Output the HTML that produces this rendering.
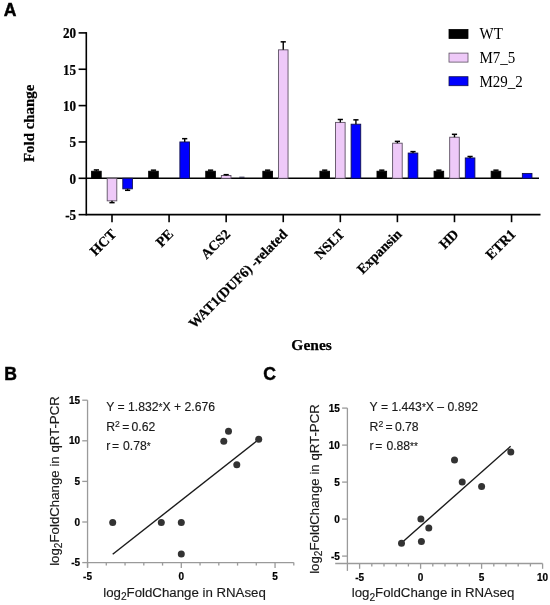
<!DOCTYPE html><html><head><meta charset="utf-8"><style>html,body{margin:0;padding:0;background:#fff;}svg{display:block;}.serif{font-family:"Liberation Serif",serif;} .sans{font-family:"Liberation Sans",sans-serif;}</style></head><body>
<svg width="550" height="605" viewBox="0 0 550 605">
<rect x="0" y="0" width="550" height="605" fill="#fff"/>
<g class="serif" stroke="#000" stroke-width="0.25">
<text x="3.8" y="15.9" font-family="Liberation Sans" font-weight="bold" font-size="17.6" stroke-width="0.45">A</text>
<line x1="86.3" y1="32.1" x2="86.3" y2="215.45" stroke="#000" stroke-width="1.6"/>
<line x1="78.6" y1="32.9" x2="86.3" y2="32.9" stroke="#000" stroke-width="1.6"/>
<text transform="translate(76.1,38.25) scale(0.93,1)" text-anchor="end" font-weight="bold" font-size="14.1">20</text>
<line x1="78.6" y1="69.25" x2="86.3" y2="69.25" stroke="#000" stroke-width="1.6"/>
<text transform="translate(76.1,74.6) scale(0.93,1)" text-anchor="end" font-weight="bold" font-size="14.1">15</text>
<line x1="78.6" y1="105.6" x2="86.3" y2="105.6" stroke="#000" stroke-width="1.6"/>
<text transform="translate(76.1,110.95) scale(0.93,1)" text-anchor="end" font-weight="bold" font-size="14.1">10</text>
<line x1="78.6" y1="141.95" x2="86.3" y2="141.95" stroke="#000" stroke-width="1.6"/>
<text transform="translate(76.1,147.3) scale(0.93,1)" text-anchor="end" font-weight="bold" font-size="14.1">5</text>
<line x1="78.6" y1="178.3" x2="86.3" y2="178.3" stroke="#000" stroke-width="1.6"/>
<text transform="translate(76.1,183.65) scale(0.93,1)" text-anchor="end" font-weight="bold" font-size="14.1">0</text>
<line x1="78.6" y1="214.65" x2="86.3" y2="214.65" stroke="#000" stroke-width="1.6"/>
<text transform="translate(76.1,220) scale(0.93,1)" text-anchor="end" font-weight="bold" font-size="14.1">-5</text>
<line x1="86.3" y1="178.3" x2="539" y2="178.3" stroke="#000" stroke-width="1.6"/>
<line x1="86.3" y1="214.65" x2="540.5" y2="214.65" stroke="#000" stroke-width="1.6"/>
<line x1="112" y1="214.65" x2="112" y2="222.2" stroke="#000" stroke-width="1.6"/>
<rect x="91.6" y="171.25" width="9.6" height="7.05" fill="#000" stroke="#000" stroke-width="0.9"/>
<line x1="96.4" y1="171.25" x2="96.4" y2="169.94" stroke="#000" stroke-width="1.4"/>
<line x1="93.8" y1="169.94" x2="99" y2="169.94" stroke="#000" stroke-width="1.5"/>
<rect x="107.2" y="178.3" width="9.6" height="22.54" fill="#EEC9F8" stroke="#5d5063" stroke-width="0.9"/>
<line x1="112" y1="200.84" x2="112" y2="202.65" stroke="#000" stroke-width="1.4"/>
<line x1="109.4" y1="202.65" x2="114.6" y2="202.65" stroke="#000" stroke-width="1.5"/>
<rect x="122.8" y="178.3" width="9.6" height="10.54" fill="#0000FF" stroke="#101050" stroke-width="0.9"/>
<line x1="127.6" y1="188.84" x2="127.6" y2="190.3" stroke="#000" stroke-width="1.4"/>
<line x1="125" y1="190.3" x2="130.2" y2="190.3" stroke="#000" stroke-width="1.5"/>
<text transform="translate(117,235) rotate(-45)" text-anchor="end" font-weight="bold" font-size="14">HCT</text>
<line x1="169.08" y1="214.65" x2="169.08" y2="222.2" stroke="#000" stroke-width="1.6"/>
<rect x="148.68" y="171.25" width="9.6" height="7.05" fill="#000" stroke="#000" stroke-width="0.9"/>
<line x1="153.48" y1="171.25" x2="153.48" y2="170.16" stroke="#000" stroke-width="1.4"/>
<line x1="150.88" y1="170.16" x2="156.08" y2="170.16" stroke="#000" stroke-width="1.5"/>
<rect x="179.88" y="141.95" width="9.6" height="36.35" fill="#0000FF" stroke="#101050" stroke-width="0.9"/>
<line x1="184.68" y1="141.95" x2="184.68" y2="138.68" stroke="#000" stroke-width="1.4"/>
<line x1="182.08" y1="138.68" x2="187.28" y2="138.68" stroke="#000" stroke-width="1.5"/>
<text transform="translate(174.08,235) rotate(-45)" text-anchor="end" font-weight="bold" font-size="14">PE</text>
<line x1="226.16" y1="214.65" x2="226.16" y2="222.2" stroke="#000" stroke-width="1.6"/>
<rect x="205.76" y="171.25" width="9.6" height="7.05" fill="#000" stroke="#000" stroke-width="0.9"/>
<line x1="210.56" y1="171.25" x2="210.56" y2="170.16" stroke="#000" stroke-width="1.4"/>
<line x1="207.96" y1="170.16" x2="213.16" y2="170.16" stroke="#000" stroke-width="1.5"/>
<rect x="221.36" y="175.54" width="9.6" height="2.76" fill="#EEC9F8" stroke="#5d5063" stroke-width="0.9"/>
<line x1="226.16" y1="175.54" x2="226.16" y2="174.67" stroke="#000" stroke-width="1.4"/>
<line x1="223.56" y1="174.67" x2="228.76" y2="174.67" stroke="#000" stroke-width="1.5"/>
<text transform="translate(231.16,235) rotate(-45)" text-anchor="end" font-weight="bold" font-size="14">ACS2</text>
<line x1="283.24" y1="214.65" x2="283.24" y2="222.2" stroke="#000" stroke-width="1.6"/>
<rect x="262.84" y="171.25" width="9.6" height="7.05" fill="#000" stroke="#000" stroke-width="0.9"/>
<line x1="267.64" y1="171.25" x2="267.64" y2="170.16" stroke="#000" stroke-width="1.4"/>
<line x1="265.04" y1="170.16" x2="270.24" y2="170.16" stroke="#000" stroke-width="1.5"/>
<rect x="278.44" y="49.84" width="9.6" height="128.46" fill="#EEC9F8" stroke="#5d5063" stroke-width="0.9"/>
<line x1="283.24" y1="49.84" x2="283.24" y2="41.84" stroke="#000" stroke-width="1.4"/>
<line x1="280.64" y1="41.84" x2="285.84" y2="41.84" stroke="#000" stroke-width="1.5"/>
<text transform="translate(288.24,235) rotate(-45)" text-anchor="end" font-weight="bold" font-size="14">WAT1(DUF6) -related</text>
<line x1="340.32" y1="214.65" x2="340.32" y2="222.2" stroke="#000" stroke-width="1.6"/>
<rect x="319.92" y="171.25" width="9.6" height="7.05" fill="#000" stroke="#000" stroke-width="0.9"/>
<line x1="324.72" y1="171.25" x2="324.72" y2="170.16" stroke="#000" stroke-width="1.4"/>
<line x1="322.12" y1="170.16" x2="327.32" y2="170.16" stroke="#000" stroke-width="1.5"/>
<rect x="335.52" y="122.39" width="9.6" height="55.91" fill="#EEC9F8" stroke="#5d5063" stroke-width="0.9"/>
<line x1="340.32" y1="122.39" x2="340.32" y2="119.49" stroke="#000" stroke-width="1.4"/>
<line x1="337.72" y1="119.49" x2="342.92" y2="119.49" stroke="#000" stroke-width="1.5"/>
<rect x="351.12" y="124.21" width="9.6" height="54.09" fill="#0000FF" stroke="#101050" stroke-width="0.9"/>
<line x1="355.92" y1="124.21" x2="355.92" y2="119.85" stroke="#000" stroke-width="1.4"/>
<line x1="353.32" y1="119.85" x2="358.52" y2="119.85" stroke="#000" stroke-width="1.5"/>
<text transform="translate(345.32,235) rotate(-45)" text-anchor="end" font-weight="bold" font-size="14">NSLT</text>
<line x1="397.4" y1="214.65" x2="397.4" y2="222.2" stroke="#000" stroke-width="1.6"/>
<rect x="377" y="171.25" width="9.6" height="7.05" fill="#000" stroke="#000" stroke-width="0.9"/>
<line x1="381.8" y1="171.25" x2="381.8" y2="170.16" stroke="#000" stroke-width="1.4"/>
<line x1="379.2" y1="170.16" x2="384.4" y2="170.16" stroke="#000" stroke-width="1.5"/>
<rect x="392.6" y="143.19" width="9.6" height="35.11" fill="#EEC9F8" stroke="#5d5063" stroke-width="0.9"/>
<line x1="397.4" y1="143.19" x2="397.4" y2="141.37" stroke="#000" stroke-width="1.4"/>
<line x1="394.8" y1="141.37" x2="400" y2="141.37" stroke="#000" stroke-width="1.5"/>
<rect x="408.2" y="153.07" width="9.6" height="25.23" fill="#0000FF" stroke="#101050" stroke-width="0.9"/>
<line x1="413" y1="153.07" x2="413" y2="151.62" stroke="#000" stroke-width="1.4"/>
<line x1="410.4" y1="151.62" x2="415.6" y2="151.62" stroke="#000" stroke-width="1.5"/>
<text transform="translate(402.4,235) rotate(-45)" text-anchor="end" font-weight="bold" font-size="14">Expansin</text>
<line x1="454.48" y1="214.65" x2="454.48" y2="222.2" stroke="#000" stroke-width="1.6"/>
<rect x="434.08" y="171.25" width="9.6" height="7.05" fill="#000" stroke="#000" stroke-width="0.9"/>
<line x1="438.88" y1="171.25" x2="438.88" y2="170.16" stroke="#000" stroke-width="1.4"/>
<line x1="436.28" y1="170.16" x2="441.48" y2="170.16" stroke="#000" stroke-width="1.5"/>
<rect x="449.68" y="137.22" width="9.6" height="41.08" fill="#EEC9F8" stroke="#5d5063" stroke-width="0.9"/>
<line x1="454.48" y1="137.22" x2="454.48" y2="134.32" stroke="#000" stroke-width="1.4"/>
<line x1="451.88" y1="134.32" x2="457.08" y2="134.32" stroke="#000" stroke-width="1.5"/>
<rect x="465.28" y="157.94" width="9.6" height="20.36" fill="#0000FF" stroke="#101050" stroke-width="0.9"/>
<line x1="470.08" y1="157.94" x2="470.08" y2="156.49" stroke="#000" stroke-width="1.4"/>
<line x1="467.48" y1="156.49" x2="472.68" y2="156.49" stroke="#000" stroke-width="1.5"/>
<text transform="translate(459.48,235) rotate(-45)" text-anchor="end" font-weight="bold" font-size="14">HD</text>
<line x1="511.56" y1="214.65" x2="511.56" y2="222.2" stroke="#000" stroke-width="1.6"/>
<rect x="491.16" y="171.25" width="9.6" height="7.05" fill="#000" stroke="#000" stroke-width="0.9"/>
<line x1="495.96" y1="171.25" x2="495.96" y2="170.16" stroke="#000" stroke-width="1.4"/>
<line x1="493.36" y1="170.16" x2="498.56" y2="170.16" stroke="#000" stroke-width="1.5"/>
<rect x="522.36" y="173.43" width="9.6" height="4.87" fill="#0000FF" stroke="#101050" stroke-width="0.9"/>
<text transform="translate(516.56,235) rotate(-45)" text-anchor="end" font-weight="bold" font-size="14">ETR1</text>
<line x1="239.3" y1="177.2" x2="244.5" y2="177.2" stroke="#202040" stroke-width="1"/>
<text transform="translate(34.2,123.3) rotate(-90)" text-anchor="middle" font-weight="bold" font-size="14.9">Fold change</text>
<text x="311.6" y="350.3" text-anchor="middle" font-weight="bold" font-size="15.5">Genes</text>
<rect x="449" y="29.5" width="19" height="9" fill="#000" stroke="#000" stroke-width="0.8"/>
<text transform="translate(479.5,38.6) scale(1,1.07)" font-size="15" stroke="none">WT</text>
<rect x="449" y="53.1" width="19" height="9" fill="#EEC9F8" stroke="#5d5063" stroke-width="0.8"/>
<text transform="translate(479.5,62.55) scale(1,1.07)" font-size="15" stroke="none">M7_5</text>
<rect x="449" y="76.7" width="19" height="9" fill="#0000FF" stroke="#101050" stroke-width="0.8"/>
<text transform="translate(479.5,86.5) scale(1,1.07)" font-size="15" stroke="none">M29_2</text>
</g>
<g class="sans">
<text x="4.3" y="379.5" font-weight="bold" font-size="17.6" stroke="#000" stroke-width="0.45">B</text>
<line x1="87.55" y1="400.2" x2="87.55" y2="567.47" stroke="#9a9a9a" stroke-width="1.3"/>
<line x1="87.55" y1="562.6" x2="293.8" y2="562.6" stroke="#9a9a9a" stroke-width="1.3"/>
<line x1="82.25" y1="400.2" x2="87.55" y2="400.2" stroke="#9a9a9a" stroke-width="1.3"/>
<text x="80.05" y="403.8" text-anchor="end" font-weight="bold" font-size="10" stroke="#000" stroke-width="0.2">15</text>
<line x1="82.25" y1="440.8" x2="87.55" y2="440.8" stroke="#9a9a9a" stroke-width="1.3"/>
<text x="80.05" y="444.4" text-anchor="end" font-weight="bold" font-size="10" stroke="#000" stroke-width="0.2">10</text>
<line x1="82.25" y1="481.4" x2="87.55" y2="481.4" stroke="#9a9a9a" stroke-width="1.3"/>
<text x="80.05" y="485" text-anchor="end" font-weight="bold" font-size="10" stroke="#000" stroke-width="0.2">5</text>
<line x1="82.25" y1="522" x2="87.55" y2="522" stroke="#9a9a9a" stroke-width="1.3"/>
<text x="80.05" y="525.6" text-anchor="end" font-weight="bold" font-size="10" stroke="#000" stroke-width="0.2">0</text>
<line x1="82.25" y1="562.6" x2="87.55" y2="562.6" stroke="#9a9a9a" stroke-width="1.3"/>
<text x="80.05" y="566.2" text-anchor="end" font-weight="bold" font-size="10" stroke="#000" stroke-width="0.2">-5</text>
<line x1="87.55" y1="562.6" x2="87.55" y2="567.9" stroke="#9a9a9a" stroke-width="1.3"/>
<text x="87.55" y="579.6" text-anchor="middle" font-weight="bold" font-size="10" stroke="#000" stroke-width="0.2">-5</text>
<line x1="106.3" y1="562.6" x2="106.3" y2="565.6" stroke="#9a9a9a" stroke-width="1.3"/>
<line x1="125.05" y1="562.6" x2="125.05" y2="565.6" stroke="#9a9a9a" stroke-width="1.3"/>
<line x1="143.8" y1="562.6" x2="143.8" y2="565.6" stroke="#9a9a9a" stroke-width="1.3"/>
<line x1="162.55" y1="562.6" x2="162.55" y2="565.6" stroke="#9a9a9a" stroke-width="1.3"/>
<line x1="181.3" y1="562.6" x2="181.3" y2="567.9" stroke="#9a9a9a" stroke-width="1.3"/>
<text x="181.3" y="579.6" text-anchor="middle" font-weight="bold" font-size="10" stroke="#000" stroke-width="0.2">0</text>
<line x1="200.05" y1="562.6" x2="200.05" y2="565.6" stroke="#9a9a9a" stroke-width="1.3"/>
<line x1="218.8" y1="562.6" x2="218.8" y2="565.6" stroke="#9a9a9a" stroke-width="1.3"/>
<line x1="237.55" y1="562.6" x2="237.55" y2="565.6" stroke="#9a9a9a" stroke-width="1.3"/>
<line x1="256.3" y1="562.6" x2="256.3" y2="565.6" stroke="#9a9a9a" stroke-width="1.3"/>
<line x1="275.05" y1="562.6" x2="275.05" y2="567.9" stroke="#9a9a9a" stroke-width="1.3"/>
<text x="275.05" y="579.6" text-anchor="middle" font-weight="bold" font-size="10" stroke="#000" stroke-width="0.2">5</text>
<line x1="293.8" y1="562.6" x2="293.8" y2="565.6" stroke="#9a9a9a" stroke-width="1.3"/>
<line x1="112.7" y1="554.3" x2="258.2" y2="439.8" stroke="#1a1a1a" stroke-width="1.4"/>
<circle cx="112.7" cy="522.4" r="3.5" fill="#333"/>
<circle cx="161.3" cy="522.4" r="3.5" fill="#333"/>
<circle cx="181.3" cy="522.4" r="3.5" fill="#333"/>
<circle cx="181.3" cy="554" r="3.5" fill="#333"/>
<circle cx="223.8" cy="441.2" r="3.5" fill="#333"/>
<circle cx="228.5" cy="431.3" r="3.5" fill="#333"/>
<circle cx="236.8" cy="464.8" r="3.5" fill="#333"/>
<circle cx="258.7" cy="439.3" r="3.5" fill="#333"/>
<text x="106.3" y="411.4" font-size="12.2" fill="#1a1a1a" stroke="#1a1a1a" stroke-width="0.15">Y = 1.832<tspan font-size="10">*</tspan>X + 2.676</text>
<text x="106.3" y="430.5" font-size="12.2" fill="#1a1a1a" stroke="#1a1a1a" stroke-width="0.15">R<tspan font-size="8.6" dy="-3.6">2</tspan><tspan dy="3.6" word-spacing="-1.1"> = 0.62</tspan></text>
<text x="106.3" y="449.6" font-size="12.2" fill="#1a1a1a" stroke="#1a1a1a" stroke-width="0.15">r<tspan dx="1.7">=</tspan><tspan dx="3.9">0.78</tspan><tspan font-size="10">*</tspan></text>
<text x="184.5" y="597" text-anchor="middle" font-size="13.25" fill="#1a1a1a" stroke="#1a1a1a" stroke-width="0.15">log<tspan font-size="10.2" dy="3.4">2</tspan><tspan dy="-3.4">FoldChange in RNAseq</tspan></text>
<text transform="translate(58.6,481) rotate(-90)" text-anchor="middle" font-size="13.25" fill="#1a1a1a" stroke="#1a1a1a" stroke-width="0.15">log<tspan font-size="10.2" dy="3.4">2</tspan><tspan dy="-3.4">FoldChange in qRT-PCR</tspan></text>
</g>
<g class="sans">
<text x="263.3" y="379.5" font-weight="bold" font-size="17.6" stroke="#000" stroke-width="0.45">C</text>
<line x1="347.4" y1="408.1" x2="347.4" y2="570.9" stroke="#9a9a9a" stroke-width="1.3"/>
<line x1="335.2" y1="563.5" x2="542.6" y2="563.5" stroke="#9a9a9a" stroke-width="1.3"/>
<line x1="342.1" y1="408.1" x2="347.4" y2="408.1" stroke="#9a9a9a" stroke-width="1.3"/>
<text x="339.9" y="411.7" text-anchor="end" font-weight="bold" font-size="10" stroke="#000" stroke-width="0.2">15</text>
<line x1="342.1" y1="445.1" x2="347.4" y2="445.1" stroke="#9a9a9a" stroke-width="1.3"/>
<text x="339.9" y="448.7" text-anchor="end" font-weight="bold" font-size="10" stroke="#000" stroke-width="0.2">10</text>
<line x1="342.1" y1="482.1" x2="347.4" y2="482.1" stroke="#9a9a9a" stroke-width="1.3"/>
<text x="339.9" y="485.7" text-anchor="end" font-weight="bold" font-size="10" stroke="#000" stroke-width="0.2">5</text>
<line x1="342.1" y1="519.1" x2="347.4" y2="519.1" stroke="#9a9a9a" stroke-width="1.3"/>
<text x="339.9" y="522.7" text-anchor="end" font-weight="bold" font-size="10" stroke="#000" stroke-width="0.2">0</text>
<line x1="342.1" y1="556.1" x2="347.4" y2="556.1" stroke="#9a9a9a" stroke-width="1.3"/>
<text x="339.9" y="559.7" text-anchor="end" font-weight="bold" font-size="10" stroke="#000" stroke-width="0.2">-5</text>
<line x1="359.6" y1="563.5" x2="359.6" y2="568.8" stroke="#9a9a9a" stroke-width="1.3"/>
<text x="359.6" y="580.5" text-anchor="middle" font-weight="bold" font-size="10" stroke="#000" stroke-width="0.2">-5</text>
<line x1="371.8" y1="563.5" x2="371.8" y2="566.5" stroke="#9a9a9a" stroke-width="1.3"/>
<line x1="384" y1="563.5" x2="384" y2="566.5" stroke="#9a9a9a" stroke-width="1.3"/>
<line x1="396.2" y1="563.5" x2="396.2" y2="566.5" stroke="#9a9a9a" stroke-width="1.3"/>
<line x1="408.4" y1="563.5" x2="408.4" y2="566.5" stroke="#9a9a9a" stroke-width="1.3"/>
<line x1="420.6" y1="563.5" x2="420.6" y2="568.8" stroke="#9a9a9a" stroke-width="1.3"/>
<text x="420.6" y="580.5" text-anchor="middle" font-weight="bold" font-size="10" stroke="#000" stroke-width="0.2">0</text>
<line x1="432.8" y1="563.5" x2="432.8" y2="566.5" stroke="#9a9a9a" stroke-width="1.3"/>
<line x1="445" y1="563.5" x2="445" y2="566.5" stroke="#9a9a9a" stroke-width="1.3"/>
<line x1="457.2" y1="563.5" x2="457.2" y2="566.5" stroke="#9a9a9a" stroke-width="1.3"/>
<line x1="469.4" y1="563.5" x2="469.4" y2="566.5" stroke="#9a9a9a" stroke-width="1.3"/>
<line x1="481.6" y1="563.5" x2="481.6" y2="568.8" stroke="#9a9a9a" stroke-width="1.3"/>
<text x="481.6" y="580.5" text-anchor="middle" font-weight="bold" font-size="10" stroke="#000" stroke-width="0.2">5</text>
<line x1="493.8" y1="563.5" x2="493.8" y2="566.5" stroke="#9a9a9a" stroke-width="1.3"/>
<line x1="506" y1="563.5" x2="506" y2="566.5" stroke="#9a9a9a" stroke-width="1.3"/>
<line x1="518.2" y1="563.5" x2="518.2" y2="566.5" stroke="#9a9a9a" stroke-width="1.3"/>
<line x1="530.4" y1="563.5" x2="530.4" y2="566.5" stroke="#9a9a9a" stroke-width="1.3"/>
<line x1="542.6" y1="563.5" x2="542.6" y2="568.8" stroke="#9a9a9a" stroke-width="1.3"/>
<text x="542.6" y="580.5" text-anchor="middle" font-weight="bold" font-size="10" stroke="#000" stroke-width="0.2">10</text>
<line x1="402" y1="542.6" x2="510.6" y2="446.3" stroke="#1a1a1a" stroke-width="1.4"/>
<circle cx="401.5" cy="543.3" r="3.5" fill="#333"/>
<circle cx="420.9" cy="518.9" r="3.5" fill="#333"/>
<circle cx="421.4" cy="541.4" r="3.5" fill="#333"/>
<circle cx="428.8" cy="527.9" r="3.5" fill="#333"/>
<circle cx="454.5" cy="460.1" r="3.5" fill="#333"/>
<circle cx="462.2" cy="481.9" r="3.5" fill="#333"/>
<circle cx="481.6" cy="486.5" r="3.5" fill="#333"/>
<circle cx="510.8" cy="452" r="3.5" fill="#333"/>
<text x="369.6" y="411.4" font-size="12.2" fill="#1a1a1a" stroke="#1a1a1a" stroke-width="0.15">Y = 1.443<tspan font-size="10">*</tspan>X – 0.892</text>
<text x="369.6" y="430.5" font-size="12.2" fill="#1a1a1a" stroke="#1a1a1a" stroke-width="0.15">R<tspan font-size="8.6" dy="-3.6">2</tspan><tspan dy="3.6" word-spacing="-1.1"> = 0.78</tspan></text>
<text x="369.6" y="449.6" font-size="12.2" fill="#1a1a1a" stroke="#1a1a1a" stroke-width="0.15">r<tspan dx="1.7">=</tspan><tspan dx="3.9">0.88</tspan><tspan font-size="10">**</tspan></text>
<text x="433" y="597.4" text-anchor="middle" font-size="13.25" fill="#1a1a1a" stroke="#1a1a1a" stroke-width="0.15">log<tspan font-size="10.2" dy="3.4">2</tspan><tspan dy="-3.4">FoldChange in RNAseq</tspan></text>
<text transform="translate(319,489) rotate(-90)" text-anchor="middle" font-size="13.25" fill="#1a1a1a" stroke="#1a1a1a" stroke-width="0.15">log<tspan font-size="10.2" dy="3.4">2</tspan><tspan dy="-3.4">FoldChange in qRT-PCR</tspan></text>
</g>
</svg></body></html>
